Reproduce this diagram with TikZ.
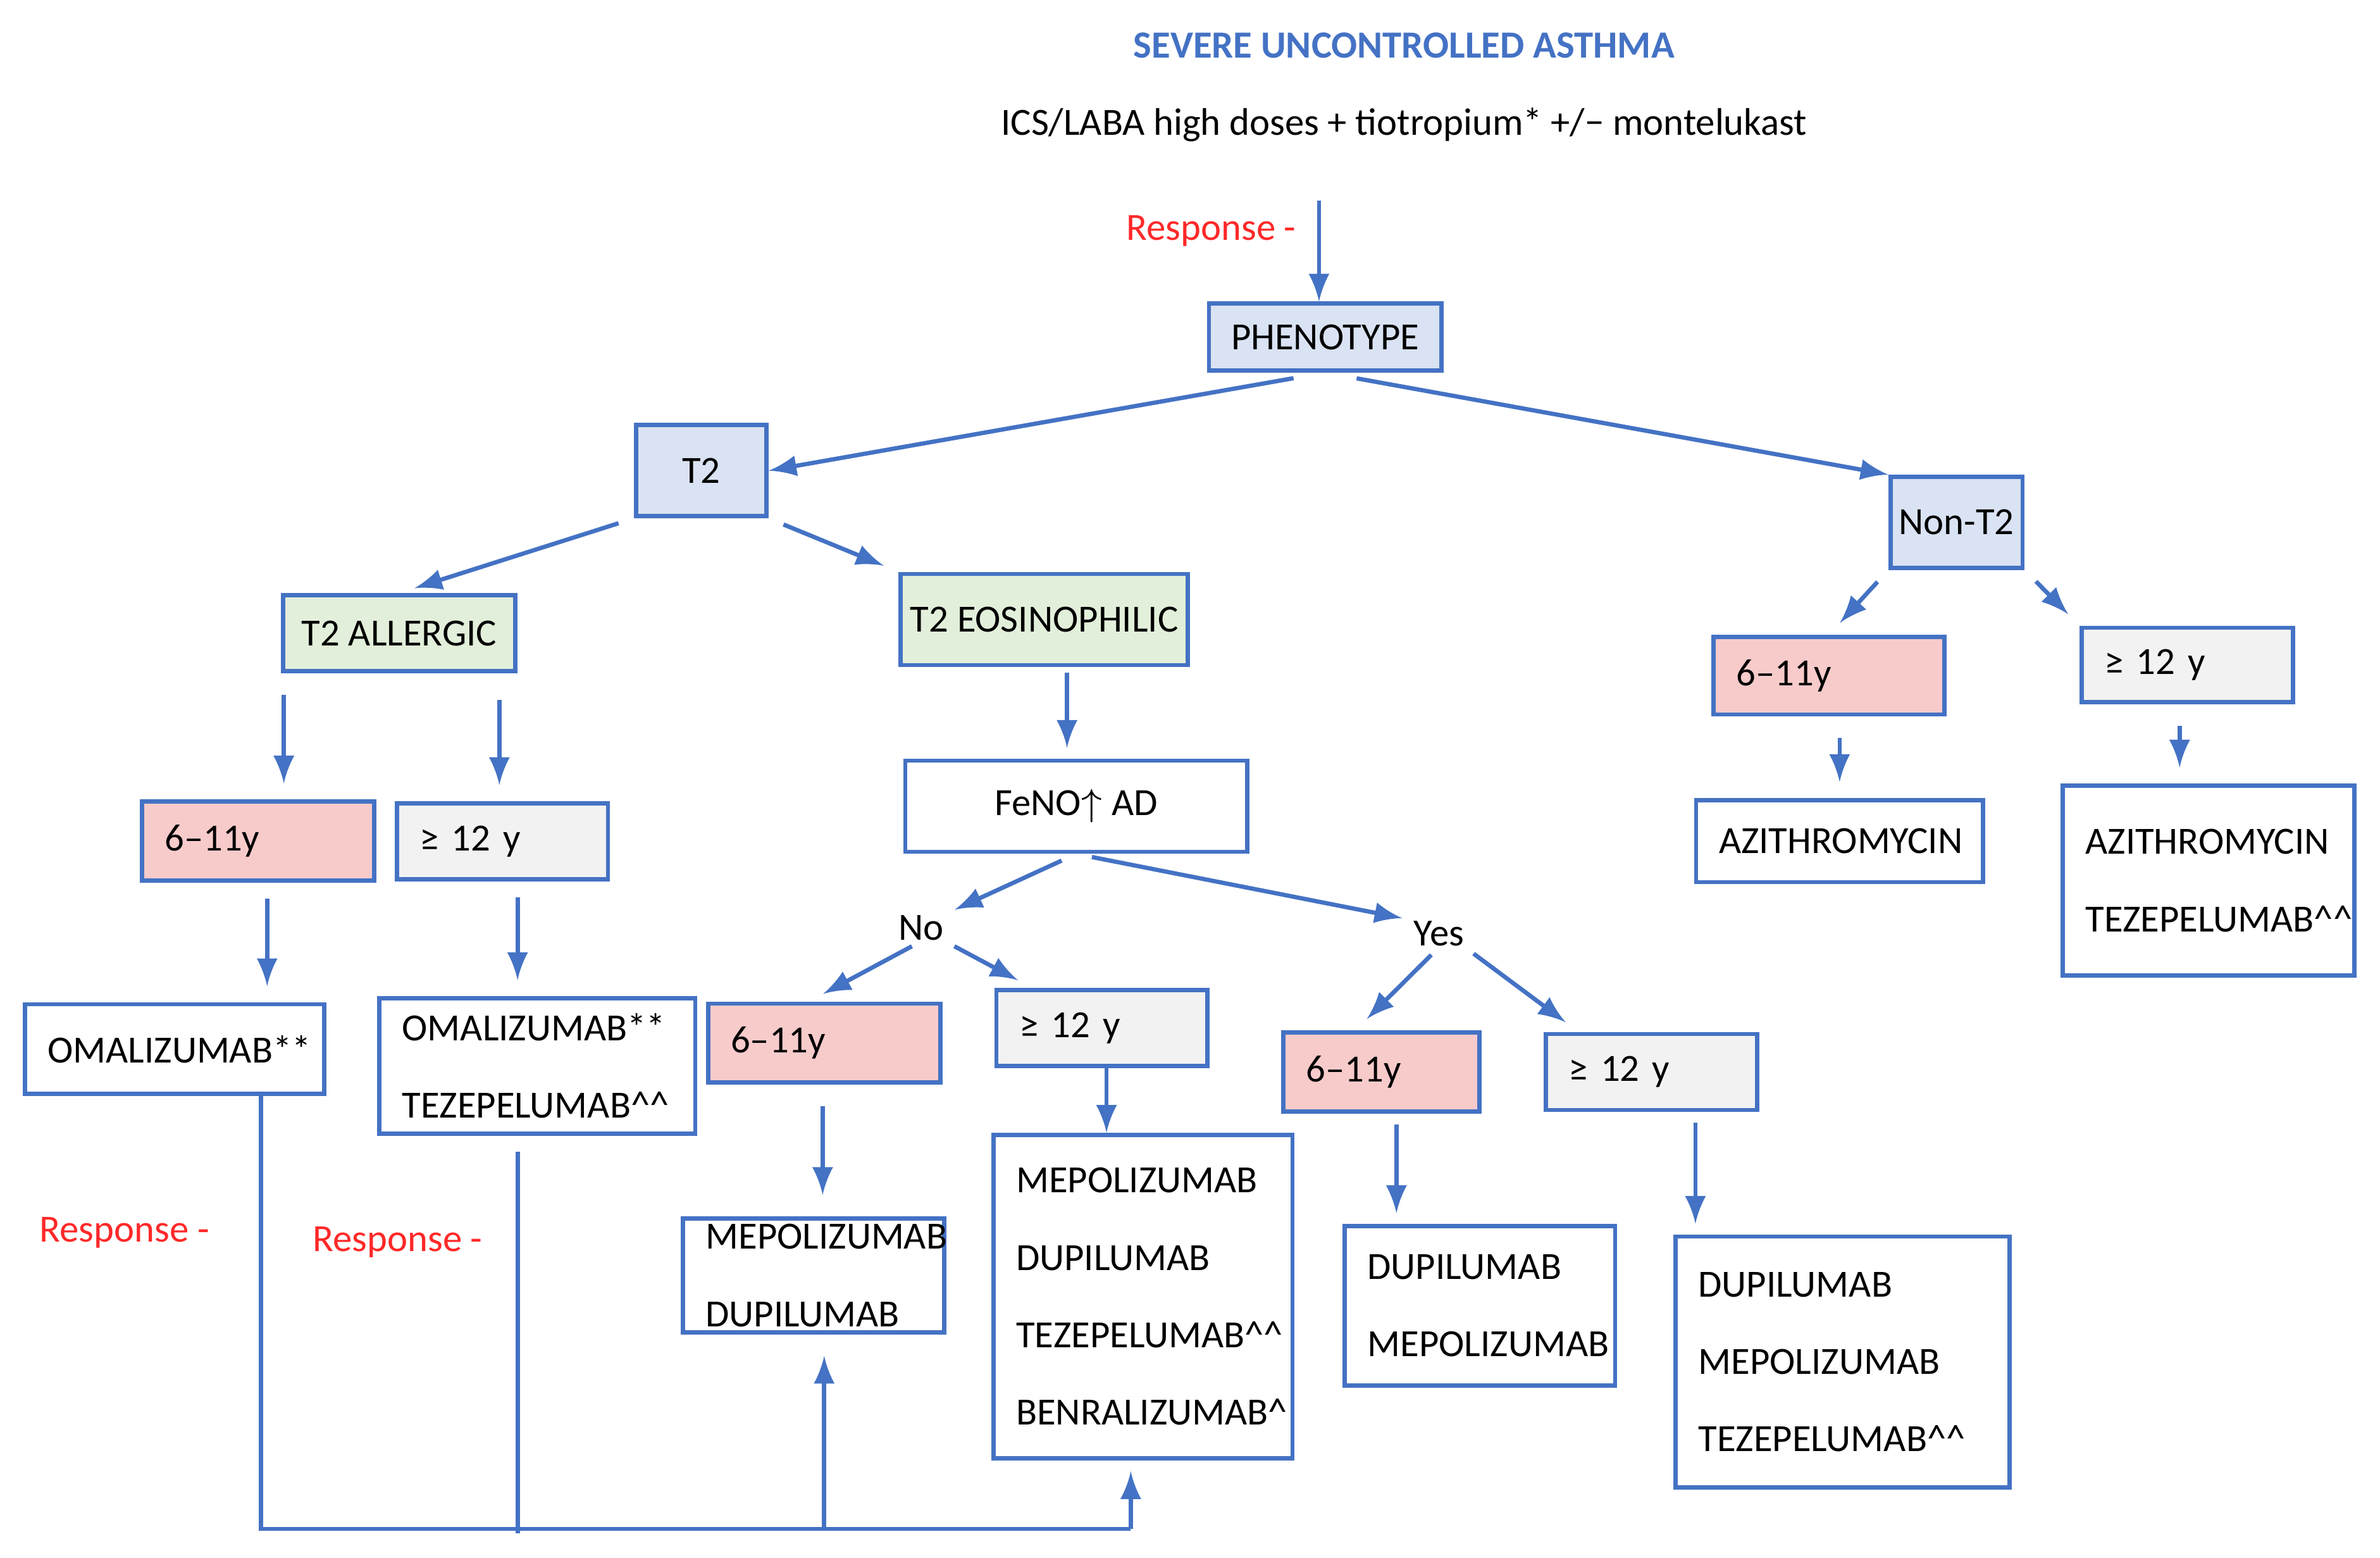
\documentclass[tikz,border=0pt]{standalone}
\usepackage{fontspec}
\setmainfont{Carlito}
\usetikzlibrary{positioning}
\definecolor{boxblue}{RGB}{68,114,196}
\definecolor{phenofill}{RGB}{218,227,243}
\definecolor{greenfill}{RGB}{226,239,218}
\definecolor{pinkfill}{RGB}{248,203,203}
\definecolor{greyfill}{RGB}{242,242,242}
\definecolor{respred}{RGB}{255,40,40}
\begin{document}
\begin{tikzpicture}[x=0.01cm, y=-0.01cm,
  every node/.style={font=\fontsize{7.2}{14.5}\selectfont, inner sep=0pt},
  box/.style={draw=boxblue, line width=0.8pt, align=center},
  lbox/.style={box, align=left, inner xsep=0.15cm},
  pheno/.style={box, fill=phenofill},
  allg/.style={box, fill=greenfill},
  kid/.style={lbox, fill=pinkfill},
  teen/.style={lbox, fill=greyfill},
  arr/.style={draw=boxblue, line width=0.8pt, -latex},
  line/.style={draw=boxblue, line width=0.8pt}]

\useasboundingbox (0,0) rectangle (1568,1026);

% Header
\node[text=boxblue, font=\fontsize{7.2}{9}\selectfont\bfseries] (title) at (925,30) {SEVERE UNCONTROLLED ASTHMA};
\node (start) at (925,82) {ICS/LABA high doses + tiotropium* +/\textminus{} montelukast};
\node[text=respred] (resp0) at (798,152) {Response -};

% Phenotype level
\node[pheno, minimum width=1.53cm, minimum height=0.44cm] (pheno) at (873,222) {PHENOTYPE};
\node[pheno, minimum width=0.86cm, minimum height=0.6cm] (t2) at (462,310) {T2};
\node[pheno, minimum width=0.87cm, minimum height=0.6cm] (nont2) at (1289,344) {Non-T2};

% T2 subgroups
\node[allg, minimum width=1.53cm, minimum height=0.5cm] (allerg) at (263,417) {T2 ALLERGIC};
\node[allg, minimum width=1.89cm, minimum height=0.6cm] (eosin) at (688,408) {T2 EOSINOPHILIC};

% Non-T2 branch
\node[kid, text width=1.22cm, minimum height=0.51cm] (nkid) at (1205,445) {6–11y};
\node[teen, text width=1.09cm, minimum height=0.49cm] (nteen) at (1441,438) {≥ 12 y};
\node[lbox, text width=1.59cm, minimum height=0.54cm] (nkidrx) at (1212,554) {AZITHROMYCIN};
\node[lbox, text width=1.62cm, minimum height=1.25cm] (nteenrx) at (1455,580) {AZITHROMYCIN\\TEZEPELUMAB\^{}\^{}};

% Allergic branch
\node[kid, text width=1.23cm, minimum height=0.52cm] (akid) at (170,554) {6–11y};
\node[teen, text width=1.09cm, minimum height=0.5cm] (ateen) at (331,554) {≥ 12 y};
\node[lbox, text width=1.67cm, minimum height=0.59cm] (akidrx) at (115,691) {OMALIZUMAB**};
\node[lbox, text width=1.78cm, minimum height=0.89cm] (ateenrx) at (354,702) {OMALIZUMAB**\\TEZEPELUMAB\^{}\^{}};
\node[text=respred] (resp1) at (82,812) {Response -};
\node[text=respred] (resp2) at (262,818) {Response -};

% Eosinophilic branch
\node[box, minimum width=2.25cm, minimum height=0.6cm] (feno) at (709,531) {FeNO$\uparrow$ AD};
\node (no) at (607,611) {No};
\node (yes) at (948,615) {Yes};
\node[kid, text width=1.23cm, minimum height=0.52cm] (nokid) at (543,687) {6–11y};
\node[teen, text width=1.09cm, minimum height=0.5cm] (noteen) at (726,677) {≥ 12 y};
\node[kid, text width=0.99cm, minimum height=0.52cm] (yeskid) at (910,706) {6–11y};
\node[teen, text width=1.09cm, minimum height=0.5cm] (yesteen) at (1088,706) {≥ 12 y};
\node[lbox, text width=1.42cm, minimum height=0.75cm] (nokidrx) at (536,840) {MEPOLIZUMAB\\DUPILUMAB};
\node[lbox, text width=1.67cm, minimum height=2.13cm] (noteenrx) at (753,854) {MEPOLIZUMAB\\DUPILUMAB\\TEZEPELUMAB\^{}\^{}\\BENRALIZUMAB\^{}};
\node[lbox, text width=1.48cm, minimum height=1.05cm] (yeskidrx) at (975,860) {DUPILUMAB\\MEPOLIZUMAB};
\node[lbox, text width=1.9cm, minimum height=1.65cm] (yesteenrx) at (1214,897) {DUPILUMAB\\MEPOLIZUMAB\\TEZEPELUMAB\^{}\^{}};

% Arrows
\draw[arr] (start) ++(-56,50) coordinate (s0) (s0) -- (pheno.north -| s0);
\draw[arr, shorten <=6pt] (pheno.south) -- (t2.east);
\draw[arr, shorten <=6pt] (pheno.south) -- (nont2.north west);
\draw[arr, shorten <=3pt, shorten >=3pt] (t2.south west) -- (allerg.north);
\draw[arr, shorten <=3pt, shorten >=3pt] (t2.south east) -- (eosin.north west);
\draw[arr, shorten <=3pt, shorten >=3pt] (nont2.south west) -- (nkid.north);
\draw[arr, shorten <=3pt, shorten >=3pt] (nont2.south east) -- (nteen.north west);
\draw[arr, shorten <=4pt, shorten >=3pt] (nkid.south -| nkidrx) -- (nkidrx.north);
\draw[arr, shorten <=4pt, shorten >=3pt] (nteen.south -| 1436,0) -- (nteenrx.north -| 1436,0);
\draw[arr, shorten <=4pt, shorten >=3pt] (allerg.south -| 187,0) -- (akid.north -| 187,0);
\draw[arr, shorten <=5pt, shorten >=3pt] (allerg.south -| 329,0) -- (ateen.north -| 329,0);
\draw[arr, shorten <=3pt, shorten >=3pt] (akid.south -| 176,0) -- (akidrx.north -| 176,0);
\draw[arr, shorten <=3pt, shorten >=3pt] (ateen.south -| 341,0) -- (ateenrx.north -| 341,0);
\draw[arr, shorten <=1pt, shorten >=2pt] (eosin.south -| 703,0) -- (feno.north -| 703,0);
\draw[arr, shorten <=3pt, shorten >=2pt] (feno.south) -- (no.north east);
\draw[arr, shorten <=3pt, shorten >=2pt] (feno.south) -- (yes.north west);
\draw[arr, shorten <=2pt, shorten >=3pt] (no.south) -- (nokid.north -| 533,0);
\draw[arr, shorten <=2pt, shorten >=3pt] (no.south east) -- (noteen.north -| 680,0);
\draw[arr, shorten <=2pt, shorten >=3pt] (yes.south) -- (yeskid.north -| 893,0);
\draw[arr, shorten <=2pt, shorten >=3pt] (yes.south east) -- (yesteen.north -| 1040,0);
\draw[arr, shorten <=4pt, shorten >=4pt] (nokid.south -| 542,0) -- (nokidrx.north -| 542,0);
\draw[arr] (noteen.south -| 729,0) -- (noteenrx.north -| 729,0);
\draw[arr, shorten <=2pt, shorten >=2pt] (yeskid.south -| 920,0) -- (yeskidrx.north -| 920,0);
\draw[arr, shorten <=2pt, shorten >=2pt] (yesteen.south -| 1117,0) -- (yesteenrx.north -| 1117,0);

% Non-responders
\coordinate (b1) at (172,1007);
\coordinate (b2) at (745,1007);
\coordinate (b3) at (543,1007);
\coordinate (b4) at (341,1010);
\draw[line] (akidrx.south -| b1) -- (b1) -- (b2);
\draw[arr, shorten >=2pt] (b2) -- (noteenrx.south -| b2);
\draw[arr, shorten >=4pt] (b3) -- (nokidrx.south -| b3);
\draw[line, shorten <=3pt] (ateenrx.south -| b4) -- (b4);
\end{tikzpicture}
\end{document}
